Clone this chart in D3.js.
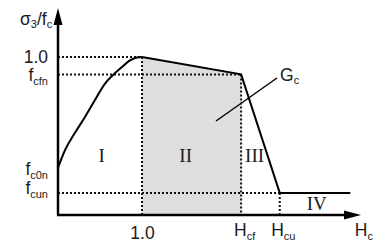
<!DOCTYPE html>
<html>
<head>
<meta charset="utf-8">
<script src="https://cdn.jsdelivr.net/npm/d3@7"></script>
<style>
  body { margin: 0; background: #fff; }
  svg { display: block; }
  .sans { font-family: Arial, "Liberation Sans", sans-serif; fill: #1a1a1a; }
  .serif { font-family: "Times New Roman", "Liberation Serif", serif; fill: #1a1a1a; }
</style>
</head>
<body>
<div id="chart"></div>
<script>
// rising branch (normalised H, sigma3/fc)
var riseH = [0, 0.083, 0.202, 0.321, 0.44, 0.56, 0.643, 0.762, 0.857, 0.94, 1.0];
var riseS = [0.30, 0.41, 0.52, 0.62, 0.728, 0.832, 0.88, 0.937, 0.978, 0.997, 1.0];

// softening branch: peak -> Hcf -> Hcu -> end
var softH = [1.0, 2.18, 2.64, 3.48];
var softS = [1.0, 0.89, 0.14, 0.14];

// tick values and labels
var yTicks = [1.0, 0.89, 0.30, 0.14];
var yLabels = [["1.0", ""], ["f", "cfn"], ["f", "c0n"], ["f", "cun"]];
var xTicks = [1.0, 2.18, 2.64, 3.6];
var xLabels = [["1.0", ""], ["H", "cf"], ["H", "cu"], ["H", "c"]];

// region names
var regions = ["I", "II", "III", "IV"];
var regionH = [0.52, 1.52, 2.34, 3.08];
var regionS = [0.335, 0.335, 0.335, 0.03];

var width = 388, height = 250;
var x0 = 58, y0 = 215;

var svg = d3.select("#chart").append("svg")
    .attr("width", width)
    .attr("height", height);

var x = d3.scaleLinear().domain([0, 1]).range([x0, 142]);
var y = d3.scaleLinear().domain([0, 1]).range([y0, 57]);

// shaded zone II (under the softening line between 1.0 and Hcf)
var shade = [[softH[0], softS[0]], [softH[1], softS[1]]];
svg.append("path")
    .datum(shade)
    .attr("d", d3.area()
        .x(function (d) { return x(d[0]); })
        .y0(y(0))
        .y1(function (d) { return y(d[1]); }))
    .attr("fill", "#dedede");

// dotted guides
var guides = [
    [[0, 1.0], [1.0, 1.0]],
    [[0, softS[1]], [softH[1], softS[1]]],
    [[0, softS[2]], [softH[2], softS[2]]],
    [[1.0, 1.0], [1.0, 0]],
    [[softH[1], softS[1]], [softH[1], 0]],
    [[softH[2], softS[2]], [softH[2], 0]]
];
svg.selectAll(".guide")
    .data(guides)
    .enter().append("line")
    .attr("class", "guide")
    .attr("x1", function (d) { return x(d[0][0]); })
    .attr("y1", function (d) { return y(d[0][1]); })
    .attr("x2", function (d) { return x(d[1][0]); })
    .attr("y2", function (d) { return y(d[1][1]); })
    .attr("stroke", "#111")
    .attr("stroke-width", 2)
    .attr("stroke-dasharray", "2,2");

// curve
var line = d3.line()
    .x(function (d) { return x(d[0]); })
    .y(function (d) { return y(d[1]); });

svg.append("path")
    .datum(d3.zip(riseH, riseS))
    .attr("d", line.curve(d3.curveMonotoneX))
    .attr("fill", "none")
    .attr("stroke", "#000")
    .attr("stroke-width", 2);

svg.append("path")
    .datum(d3.zip(softH, softS))
    .attr("d", line.curve(d3.curveLinear))
    .attr("fill", "none")
    .attr("stroke", "#000")
    .attr("stroke-width", 2)
    .attr("stroke-linejoin", "miter");

// axes lines with arrow heads
svg.append("line")
    .attr("x1", x0).attr("y1", y0)
    .attr("x2", x0).attr("y2", 22)
    .attr("stroke", "#000").attr("stroke-width", 2.5);
svg.append("path")
    .attr("d", "M" + x0 + ",8 L" + (x0 - 4.5) + ",25 L" + (x0 + 4.5) + ",25 Z")
    .attr("fill", "#000");

svg.append("line")
    .attr("x1", x0 - 1).attr("y1", y0)
    .attr("x2", 346).attr("y2", y0)
    .attr("stroke", "#000").attr("stroke-width", 2.5);
svg.append("path")
    .attr("d", "M361," + y0 + " L344," + (y0 - 4.5) + " L344," + (y0 + 4.5) + " Z")
    .attr("fill", "#000");

// y axis ticks (labels only)
var yAxis = d3.axisLeft(y).tickValues(yTicks).tickSize(0).tickFormat("");
var yg = svg.append("g")
    .attr("transform", "translate(" + x0 + ",0)")
    .call(yAxis);
yg.select(".domain").remove();
var yShift = [5, 6, 7, 1];
yg.selectAll(".tick").each(function (d, i) {
    var t = d3.select(this).append("text")
        .attr("class", "sans")
        .attr("x", -10)
        .attr("y", yShift[i])
        .attr("text-anchor", "end")
        .style("font-size", "17.5px");
    t.append("tspan").text(yLabels[i][0]);
    if (yLabels[i][1]) {
        t.append("tspan").attr("dy", 4).style("font-size", "11px").text(yLabels[i][1]);
    }
});

// x axis ticks (labels only)
var xAxis = d3.axisBottom(x).tickValues(xTicks).tickSize(0).tickFormat("");
var xg = svg.append("g")
    .attr("transform", "translate(0," + y0 + ")")
    .call(xAxis);
xg.select(".domain").remove();
var xShift = [24, 21, 21, 21];
xg.selectAll(".tick").each(function (d, i) {
    var t = d3.select(this).append("text")
        .attr("class", "sans")
        .attr("x", xLabels[i][1] ? 3 : 0)
        .attr("y", xShift[i])
        .attr("text-anchor", "middle")
        .style("font-size", "17.5px");
    t.append("tspan").text(xLabels[i][0]);
    if (xLabels[i][1]) {
        t.append("tspan").attr("dy", 4).style("font-size", "11px").text(xLabels[i][1]);
    }
});

// y title
var yt = svg.append("text")
    .attr("class", "sans")
    .attr("x", 20).attr("y", 25)
    .style("font-size", "17.5px");
yt.append("tspan").text("\u03c3");
yt.append("tspan").attr("dy", 3).style("font-size", "11px").text("3");
yt.append("tspan").attr("dy", -3).text("/f");
yt.append("tspan").attr("dy", 3).style("font-size", "11px").text("c");

// region labels
svg.selectAll(".region")
    .data(regions)
    .enter().append("text")
    .attr("class", "serif region")
    .attr("x", function (d, i) { return x(regionH[i]); })
    .attr("y", function (d, i) { return y(regionS[i]); })
    .attr("text-anchor", "middle")
    .style("font-size", "19px")
    .text(function (d) { return d; });

// Gc annotation
svg.append("line")
    .attr("x1", 216).attr("y1", 121)
    .attr("x2", 277).attr("y2", 78)
    .attr("stroke", "#000").attr("stroke-width", 1.5);
var gc = svg.append("text")
    .attr("class", "sans")
    .attr("x", 280).attr("y", 81)
    .style("font-size", "17.5px");
gc.append("tspan").text("G");
gc.append("tspan").attr("dy", 3).style("font-size", "11px").text("c");
</script>
</body>
</html>
